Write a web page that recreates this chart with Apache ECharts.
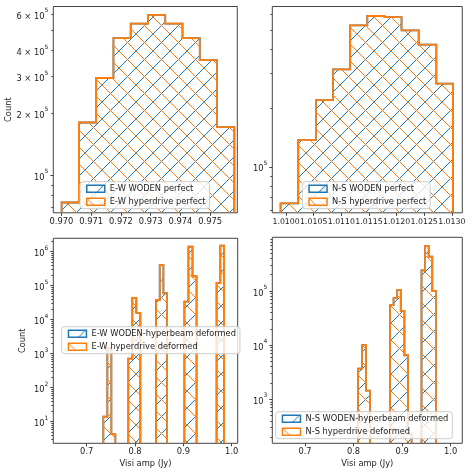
<!DOCTYPE html>
<html>
<head>
<meta charset="utf-8">
<script src="https://cdn.jsdelivr.net/npm/echarts@6/dist/echarts.min.js"></script>
<style>
html,body{margin:0;padding:0;background:#fff}
#main{width:474px;height:476px}
</style>
</head>
<body>
<div id="main"></div>
<script>
// top-left: E-W perfect (WODEN and hyperdrive read identical)
const ewPerfectEdges = [0.97001, 0.97059, 0.97117, 0.97175, 0.97233, 0.97291, 0.97349, 0.97407, 0.97465, 0.97523, 0.97581];
const ewPerfectCounts = [7.4e4, 1.80e5, 2.95e5, 4.6e5, 5.4e5, 5.95e5, 5.4e5, 4.6e5, 3.6e5, 1.71e5];

// top-right: N-S perfect
const nsPerfectEdges = [1.00990, 1.01022, 1.01054, 1.01085, 1.01116, 1.01147, 1.01178, 1.01209, 1.01240, 1.01272, 1.01302];
const nsPerfectCounts = [6.5e4, 1.37e5, 2.19e5, 3.15e5, 5.28e5, 5.9e5, 5.82e5, 4.98e5, 4.21e5, 2.66e5];

// bottom-left: E-W deformed, one list per spike
const ewDeformedEdges = [
    [0.7344, 0.7427, 0.7510, 0.7593],
    [0.7861, 0.7944, 0.8027, 0.8110],
    [0.8435, 0.8511, 0.8587, 0.8663],
    [0.9021, 0.9105, 0.9189, 0.9273],
    [0.9687, 0.9765, 0.9843]
];
const ewDeformedCounts = [
    [14, 1500, 4.3],
    [720, 4.4e4, 1.6e4],
    [3.8e4, 4.1e5, 6.0e4],
    [3.4e4, 1.4e6, 1.9e5],
    [1.2e5, 1.5e6]
];

// bottom-right: N-S deformed
const nsDeformedEdges = [
    [0.8091, 0.8173, 0.8256, 0.8338],
    [0.8750, 0.8824, 0.8898, 0.8972, 0.9047, 0.9121, 0.9195],
    [0.9399, 0.9473, 0.9547, 0.9621, 0.9695]
];
const nsDeformedCounts = [
    [3.7e3, 1.0e4, 1.45e3],
    [5.5e4, 7.4e4, 1.05e5, 4.3e4, 6.5e3, 230],
    [2.4e5, 6.8e5, 4.3e5, 1.0e5]
];

// tick values
const ewPerfectXTicks = [0.970, 0.971, 0.972, 0.973, 0.974, 0.975];
const nsPerfectXTicks = [1.0100, 1.0105, 1.0110, 1.0115, 1.0120, 1.0125, 1.0130];
const deformedXTicks = [0.7, 0.8, 0.9, 1.0];
const ewPerfectYLabels = [1e5, 2e5, 3e5, 4e5, 6e5];
const nsPerfectYLabels = [1e5];
const ewDeformedYLabels = [1e1, 1e2, 1e3, 1e4, 1e5, 1e6];
const nsDeformedYLabels = [1e3, 1e4, 1e5];

const BLUE = '#1f77b4', ORANGE = '#ff7f0e';
const TXT = '#222', SPINE = '#444';
const FONT = 'DejaVu Sans';

function minorTicks(lo, hi) {
    const out = [];
    for (let e = -1; e <= 7; e++) {
        for (let m = 2; m <= 9; m++) {
            const v = m * Math.pow(10, e);
            if (v >= lo && v <= hi) out.push(v);
        }
    }
    return out;
}

function makeHatch(color, dir) {
    const P = 17;
    const c = document.createElement('canvas');
    c.width = P; c.height = P;
    const g = c.getContext('2d');
    g.strokeStyle = color;
    g.lineWidth = 1;
    for (let k = -1; k <= 1; k++) {
        g.beginPath();
        if (dir === '/') { g.moveTo(k * P, P); g.lineTo(k * P + P, 0); }
        else { g.moveTo(k * P, 0); g.lineTo(k * P + P, P); }
        g.stroke();
    }
    return { image: c, repeat: 'repeat' };
}
const blueHatch = makeHatch(BLUE, '/');
const orangeHatch = makeHatch(ORANGE, '\\');

function sciLabel(v) {
    const e = Math.floor(Math.log10(v) + 1e-9);
    const m = Math.round(v / Math.pow(10, e));
    if (m === 1) return '{b|10}{s|' + e + '}';
    return '{b|' + m + ' \u00d7 10}{s|' + e + '}';
}
const supRich = {
    b: { fontSize: 8.3, fontFamily: FONT, color: TXT, lineHeight: 13, verticalAlign: 'bottom' },
    s: { fontSize: 6, fontFamily: FONT, color: TXT, lineHeight: 8, verticalAlign: 'top' }
};

// panel layout and ranges
const panels = [
    { grid: { left: 53.3, top: 6.5, width: 184, height: 206.3 },
      xMin: 0.96973, xMax: 0.97591, xTicks: ewPerfectXTicks, xDec: 3, xFont: 8.3,
      yMin: 6.6e4, yMax: 6.53e5, yLabels: ewPerfectYLabels, yMajor: [1e5],
      groups: [{ edges: ewPerfectEdges, counts: ewPerfectCounts }],
      names: ['E-W WODEN perfect', 'E-W hyperdrive perfect'],
      legend: { left: 80, top: 181.7 }, yName: 'Count', yNameGap: 35 },
    { grid: { left: 272.3, top: 6.5, width: 190, height: 206.3 },
      xMin: 1.00975, xMax: 1.01319, xTicks: nsPerfectXTicks, xDec: 4, xFont: 7.8,
      yMin: 5.82e4, yMax: 6.6e5, yLabels: nsPerfectYLabels, yMajor: [1e5],
      groups: [{ edges: nsPerfectEdges, counts: nsPerfectCounts }],
      names: ['N-S WODEN perfect', 'N-S hyperdrive perfect'],
      legend: { left: 302.3, top: 181.7 } },
    { grid: { left: 53.3, top: 238.3, width: 184.4, height: 205 },
      xMin: 0.6309, xMax: 1.0124, xTicks: deformedXTicks, xDec: 1, xFont: 8.3,
      yMin: 2.32, yMax: 2.48e6, yLabels: ewDeformedYLabels, yMajor: ewDeformedYLabels,
      groups: ewDeformedEdges.map((e, i) => ({ edges: e, counts: ewDeformedCounts[i] })),
      names: ['E-W WODEN-hyperbeam deformed', 'E-W hyperdrive deformed'],
      legend: { left: 61.7, top: 326.7 }, yName: 'Count', yNameGap: 26, xName: 'Visi amp (Jy)' },
    { grid: { left: 272.3, top: 237.3, width: 190, height: 206 },
      xMin: 0.6327, xMax: 1.0239, xTicks: deformedXTicks, xDec: 1, xFont: 8.3,
      yMin: 154, yMax: 9.8e5, yLabels: nsDeformedYLabels, yMajor: nsDeformedYLabels,
      groups: nsDeformedEdges.map((e, i) => ({ edges: e, counts: nsDeformedCounts[i] })),
      names: ['N-S WODEN-hyperbeam deformed', 'N-S hyperdrive deformed'],
      legend: { left: 275.7, top: 411.7 }, xName: 'Visi amp (Jy)' }
];

function histRender(groups, color, hatch, yBottom) {
    return function (params, api) {
        const g = groups[params.dataIndex];
        const pts = [api.coord([g.edges[0], yBottom])];
        for (let i = 0; i < g.counts.length; i++) {
            pts.push(api.coord([g.edges[i], g.counts[i]]));
            pts.push(api.coord([g.edges[i + 1], g.counts[i]]));
        }
        pts.push(api.coord([g.edges[g.edges.length - 1], yBottom]));
        return {
            type: 'group',
            children: [
                { type: 'polygon', shape: { points: pts }, style: { fill: hatch, stroke: null } },
                { type: 'polyline', shape: { points: pts }, style: { fill: null, stroke: color, lineWidth: 1.8, lineJoin: 'miter' } }
            ]
        };
    };
}

const grids = [], xAxes = [], yAxes = [], series = [], legends = [];
panels.forEach((p, i) => {
    grids.push(Object.assign({ show: true, borderColor: SPINE, borderWidth: 1, backgroundColor: 'transparent' }, p.grid));
    xAxes.push({
        gridIndex: i, type: 'value', min: p.xMin, max: p.xMax,
        name: p.xName || '', nameLocation: 'middle', nameGap: 17,
        nameTextStyle: { fontSize: 8.3, fontFamily: FONT, color: TXT },
        axisLine: { show: false },
        splitLine: { show: false },
        axisTick: { show: true, length: 3, lineStyle: { color: SPINE }, customValues: p.xTicks },
        axisLabel: { fontSize: p.xFont, fontFamily: FONT, color: TXT, margin: 5, customValues: p.xTicks,
            showMinLabel: true, showMaxLabel: true, hideOverlap: false,
            formatter: v => v.toFixed(p.xDec) }
    });
    yAxes.push({
        gridIndex: i, type: 'log', logBase: 10, min: p.yMin, max: p.yMax, position: 'left',
        name: p.yName || '', nameLocation: 'middle', nameGap: p.yNameGap || 30,
        nameTextStyle: { fontSize: 8.3, fontFamily: FONT, color: TXT },
        axisLine: { show: false },
        splitLine: { show: false },
        minorTick: { show: false },
        axisTick: { show: true, length: 3, lineStyle: { color: SPINE }, customValues: p.yMajor },
        axisLabel: { margin: 5, customValues: p.yLabels, formatter: sciLabel, rich: supRich,
            showMinLabel: true, showMaxLabel: true }
    });
    yAxes.push({
        gridIndex: i, type: 'log', logBase: 10, min: p.yMin, max: p.yMax, position: 'left', offset: 0,
        axisLine: { show: false },
        splitLine: { show: false },
        axisTick: { show: true, length: 2, lineStyle: { color: SPINE }, customValues: minorTicks(p.yMin, p.yMax) },
        axisLabel: { show: false }
    });
    const styles = [[BLUE, blueHatch], [ORANGE, orangeHatch]];
    p.names.forEach((name, k) => {
        series.push({
            type: 'custom', name: name, coordinateSystem: 'cartesian2d',
            xAxisIndex: i, yAxisIndex: 2 * i, clip: true, silent: true,
            itemStyle: { color: styles[k][0] },
            renderItem: histRender(p.groups, styles[k][0], styles[k][1], p.yMin),
            data: p.groups.map(g => [g.edges[0], Math.max.apply(null, g.counts)])
        });
    });
    legends.push({
        left: p.legend.left, top: p.legend.top, orient: 'vertical',
        itemWidth: 18, itemHeight: 7, itemGap: 3, padding: [2, 4, 2, 6],
        borderColor: '#ccc', borderWidth: 1, borderRadius: 3,
        backgroundColor: 'rgba(255,255,255,0.8)', selectedMode: false,
        textStyle: { fontSize: 8.3, fontFamily: FONT, color: TXT, lineHeight: 10 },
        data: p.names.map((name, k) => ({
            name: name, icon: 'rect',
            itemStyle: { color: styles[k][1], borderColor: styles[k][0], borderWidth: 1.5 }
        }))
    });
});

const chart = echarts.init(document.getElementById('main'), null, { renderer: 'canvas' });
chart.setOption({
    animation: false,
    backgroundColor: '#fff',
    textStyle: { fontFamily: FONT },
    grid: grids,
    xAxis: xAxes,
    yAxis: yAxes,
    legend: legends,
    series: series
});
</script>
</body>
</html>
